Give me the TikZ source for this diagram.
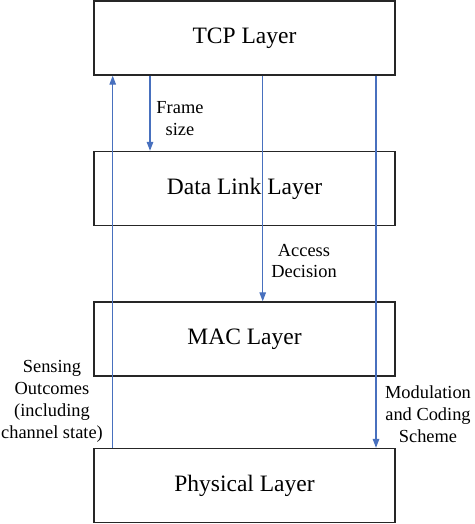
\documentclass[tikz,border=0pt]{standalone}
\usepackage{fontspec}
\setmainfont{Liberation Serif}
\usetikzlibrary{arrows.meta}
\definecolor{arrblue}{RGB}{72,112,190}
\begin{document}
\begin{tikzpicture}[x=1pt,y=1pt,
  layerbox/.style={draw=black!85,line width=1.3pt,minimum width=301pt,minimum height=74pt,inner sep=0pt,font=\fontsize{23.5}{28}\selectfont},
  arr/.style={draw=arrblue,line width=1.2pt,-{Triangle[length=9pt,width=6.5pt]}},
  lbl/.style={align=center,inner sep=0pt,font=\fontsize{18.4}{21.8}\selectfont}]
\useasboundingbox (0,0) rectangle (474,524);
\node[layerbox] (tcp) at (244.5,486) {TCP Layer};
\node[layerbox] (dl) at (244.5,335.5) {Data Link Layer};
\node[layerbox] (mac) at (244.5,185) {MAC Layer};
\node[layerbox] (phy) at (244.5,38.5) {Physical Layer};
\coordinate (xa) at (112.7,0);
\coordinate (xb) at (150,0);
\coordinate (xc) at (262.7,0);
\coordinate (xd) at (376,0);
\draw[arr] (phy.north -| xa) -- (tcp.south -| xa);
\draw[arr] (tcp.south -| xb) -- (dl.north -| xb);
\draw[arr] (tcp.south -| xc) -- (mac.north -| xc);
\draw[arr] (tcp.south -| xd) -- (phy.north -| xd);
\node[lbl] (l1) at (180,405.5) {Frame\\size};
\node[lbl] (l2) at (304,263) {Access\\Decision};
\node[lbl] (l3) at (52,122.5) {Sensing\\Outcomes\\(including\\channel state)};
\node[lbl] (l4) at (428,110) {Modulation\\and Coding\\Scheme};
\end{tikzpicture}
\end{document}
